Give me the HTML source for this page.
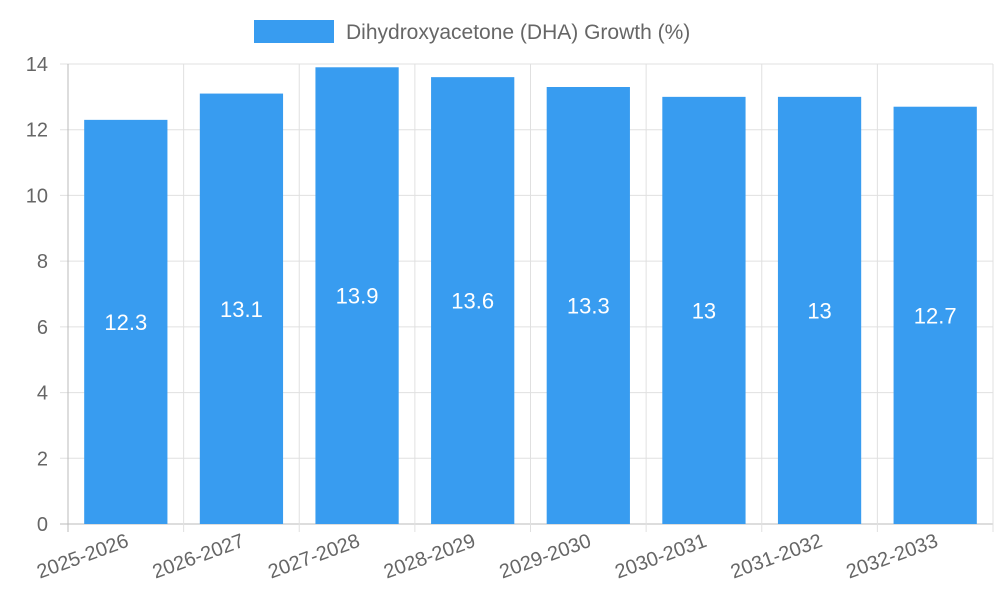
<!DOCTYPE html>
<html><head><meta charset="utf-8"><style>
body{margin:0;background:#fff;}
svg{display:block;font-family:"Liberation Sans",Arial,sans-serif;}
</style></head><body>
<svg id="chart" width="1000" height="600">
<g id="legend">
<rect x="254" y="20" width="80" height="23" fill="#389cf0"></rect>
<text x="346" y="39" font-size="21" fill="#666">Dihydroxyacetone (DHA) Growth (%)</text>
</g>
<g id="grid"></g><g id="bars"></g><g id="labels"></g><g id="axes"></g>
</svg>
<script>
const categories=["2025-2026","2026-2027","2027-2028","2028-2029","2029-2030","2030-2031","2031-2032","2032-2033"];
const values=[12.3,13.1,13.9,13.6,13.3,13,13,12.7];
const yTicks=[0,2,4,6,8,10,12,14];
const NS="http://www.w3.org/2000/svg";
const L=68,R=993,T=64,B=524,yMax=14;
const y=v=>B-(v/yMax)*(B-T);
const band=(R-L)/categories.length;
const x=i=>L+i*band;
function el(t,a,p){const e=document.createElementNS(NS,t);for(const k in a)e.setAttribute(k,a[k]);document.getElementById(p).appendChild(e);return e;}
yTicks.forEach(t=>{
 const g=el('line',{x1:60,x2:R,y1:y(t),y2:y(t),stroke:t===0?'#bbb':'#e0e0e0','stroke-width':1},'grid');
 
 
 const tx=el('text',{x:48,y:y(t)+7,'font-size':20,fill:'#666','text-anchor':'end'},'axes');
 tx.textContent=t;
 
 
});
for(let i=0;i<=categories.length;i++){
 const g=el('line',{x1:x(i),x2:x(i),y1:T,y2:B+8,stroke:i===0?'#bbb':'#e0e0e0','stroke-width':1},'grid');
 
 
}
categories.forEach((c,i)=>{
 const bw=band*0.72,bx=x(i)+(band-bw)/2;
 const r=el('rect',{x:bx,y:y(values[i]),width:bw,height:B-y(values[i]),fill:'#389cf0'},'bars');
 
 
 const v=el('text',{x:x(i)+band/2,y:(y(values[i])+B)/2+8,'font-size':22,fill:'#fff','text-anchor':'middle'},'labels');
 v.textContent=values[i];
 
 
 const cx=x(i)+band/2+4,cy=B+22;
 const t=el('text',{x:cx,y:cy,'font-size':20,fill:'#666','text-anchor':'end',transform:`rotate(-20 ${cx} ${cy})`},'axes');
 t.textContent=c;
 
 
});
</script>
</body></html>
